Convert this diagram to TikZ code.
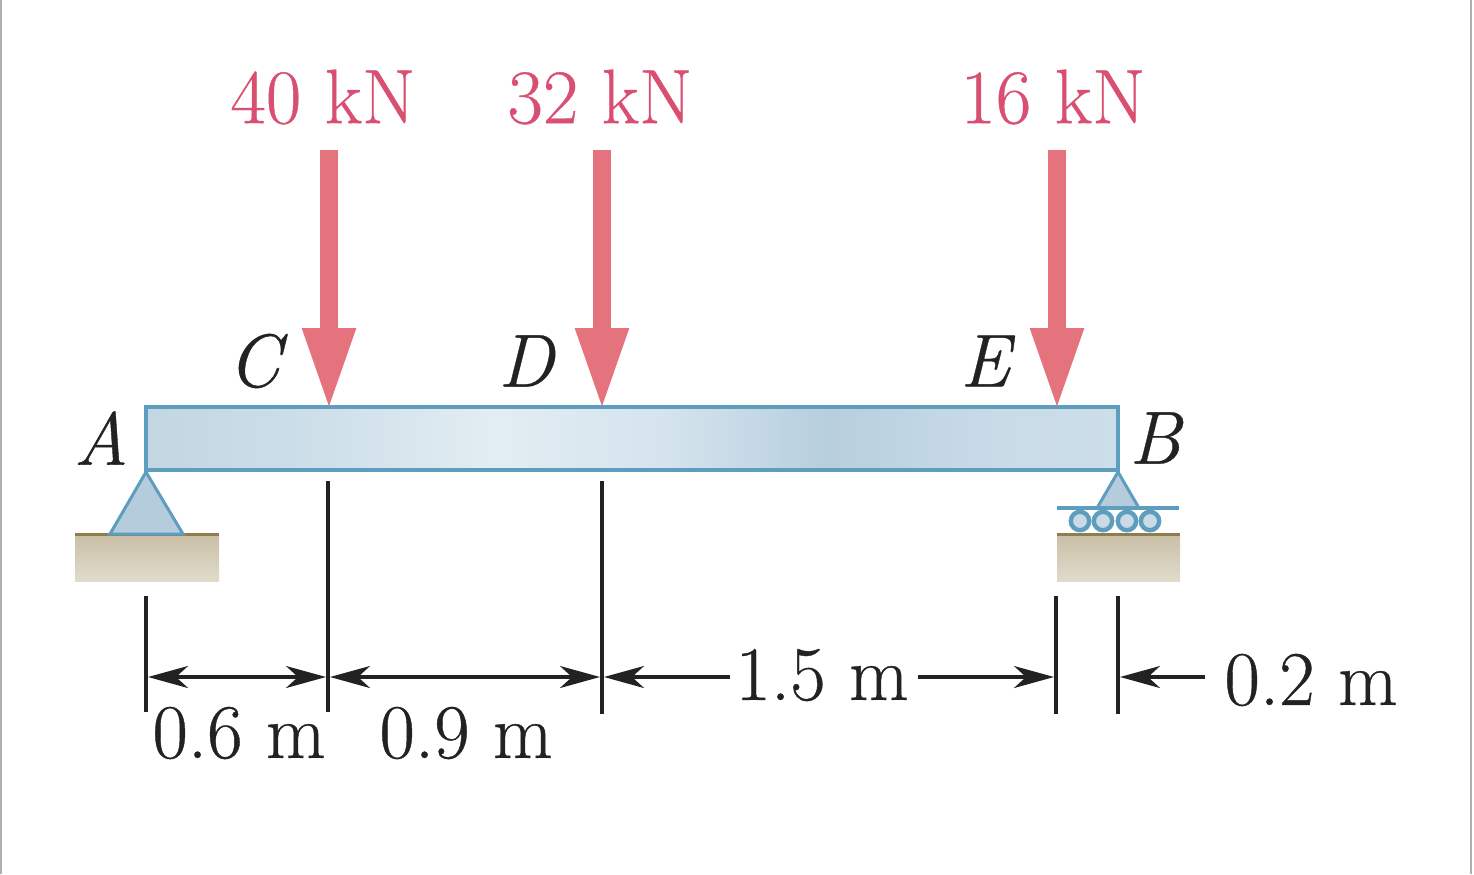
\documentclass[tikz,border=0pt]{standalone}
\usepackage{xcolor}
\usepackage{fontspec}
\setmainfont{Latin Modern Roman}[UprightFeatures={FakeBold=0.5},ItalicFeatures={FakeBold=0.5}]
\usetikzlibrary{arrows.meta}
\definecolor{beamline}{HTML}{5F9DBE}
\definecolor{loadfill}{HTML}{E5737D}
\definecolor{loadtext}{HTML}{D94F72}
\definecolor{groundline}{HTML}{8F7D4E}
\definecolor{dimline}{HTML}{222222}
\definecolor{groundtop}{HTML}{C9BFA6}
\definecolor{groundbottom}{HTML}{E1DBCD}
\definecolor{supportfill}{HTML}{B4CCDC}
\definecolor{framegray}{HTML}{B0B0B0}
\pgfdeclarehorizontalshading{beamshade}{100bp}{
  rgb(0bp)=(.76,.84,.89); rgb(25bp)=(.76,.84,.89); rgb(33bp)=(.80,.87,.91);
  rgb(43bp)=(.89,.93,.95); rgb(52bp)=(.83,.89,.93); rgb(60bp)=(.72,.81,.87);
  rgb(69bp)=(.79,.86,.91); rgb(75bp)=(.80,.87,.91); rgb(100bp)=(.80,.87,.91)}
\tikzset{
  labeltext/.style={font=\fontsize{38.6}{44}\selectfont, text=dimline, inner sep=0pt},
  pointtext/.style={font=\fontsize{37.5}{44}\selectfont\itshape, text=dimline, inner sep=0pt},
  loadlabel/.style={font=\fontsize{38.6}{44}\selectfont, text=loadtext, inner sep=0pt},
  loadarrow/.style={draw=loadfill, line width=9pt, shorten >=-2pt, -{Triangle[length=41.5pt,width=24.3pt]}},
  dimarrow/.style={draw=dimline, line width=1.6pt, {Stealth[length=20pt,width=11pt,inset=6pt]}-{Stealth[length=20pt,width=11pt,inset=6pt]}},
  oneside/.style={draw=dimline, line width=1.6pt, -{Stealth[length=20pt,width=11pt,inset=6pt]}},
  extline/.style={draw=dimline, line width=1.6pt},
  ground/.style={top color=groundtop, bottom color=groundbottom, draw=none},
  support/.style={draw=beamline, line width=1.5pt, fill=supportfill},
}
\begin{document}
\begin{tikzpicture}[x=0.5pt, y=-0.5pt]
\useasboundingbox (0, 0) rectangle (1474, 874);
\draw[framegray, line width=1pt] (1, 0) -- (1, 874);
\draw[framegray, line width=1pt] (1471, 0) -- (1471, 874);

% ground blocks
\fill[ground] (75, 534) rectangle (219, 581);
\fill[ground] (1057, 534) rectangle (1180, 581);
\draw[groundline, line width=1.5pt] (75, 534) -- (219, 534);
\draw[groundline, line width=1.5pt] (1057, 534) -- (1180, 534);

% supports
\draw[support] (146, 472) -- (110, 534) -- (183, 534) -- cycle;
\draw[support] (1118, 472) -- (1097, 508) -- (1139, 508) -- cycle;
\draw[beamline, line width=2pt] (1057, 508) -- (1179, 508);
\foreach \xr in {1080, 1103, 1127, 1150}
  \draw[draw=beamline, line width=2.2pt, fill=supportfill!70] (\xr, 521) circle (4.6pt);

% beam
\node (beam) [draw=beamline, line width=1.6pt, shading=beamshade, shading angle=0, minimum width=486pt, minimum height=31.5pt, inner sep=0pt, outer sep=0pt, anchor=north west] at (146, 407) {};

\coordinate (C) at (329, 407);
\coordinate (D) at (602, 407);
\coordinate (E) at (1057, 407);
\coordinate (fC) at (329, 150);
\coordinate (fD) at (602, 150);
\coordinate (fE) at (1057, 150);

% loads
\draw[loadarrow] (fC) -- (C);
\draw[loadarrow] (fD) -- (D);
\draw[loadarrow] (fE) -- (E);
\node (tC) [loadlabel] at (323, 97) {40 kN};
\node (tD) [loadlabel] at (600, 97) {32 kN};
\node (tE) [loadlabel] at (1053, 97) {16 kN};

% point labels
\node (lA) [pointtext] at (101, 438) {A};
\node (lB) [pointtext] at (1155, 438) {B};
\node (lC) [pointtext] at (254, 361) {C};
\node (lD) [pointtext] at (526, 361) {D};
\node (lE) [pointtext] at (985, 361) {E};

% extension lines
\coordinate (a1) at (146, 596);
\coordinate (a2) at (146, 712);
\coordinate (c1) at (328, 481);
\coordinate (c2) at (328, 712);
\coordinate (d1) at (602, 481);
\coordinate (d2) at (602, 714);
\coordinate (e1) at (1056, 596);
\coordinate (e2) at (1056, 714);
\coordinate (b1) at (1118, 596);
\coordinate (b2) at (1118, 714);
\draw[extline] (a1) -- (a2);
\draw[extline] (c1) -- (c2);
\draw[extline] (d1) -- (d2);
\draw[extline] (e1) -- (e2);
\draw[extline] (b1) -- (b2);

% dimensions
\coordinate (ma) at (148, 677);
\coordinate (mc) at (326, 677);
\coordinate (mc2) at (330, 677);
\coordinate (md) at (600, 677);
\coordinate (md2) at (604, 677);
\coordinate (me) at (1054, 677);
\coordinate (mb) at (1120, 677);
\coordinate (s1) at (730, 677);
\coordinate (s2) at (918, 677);
\coordinate (s3) at (1205, 677);
\draw[dimarrow] (ma) -- (mc);
\draw[dimarrow] (mc2) -- (md);
\draw[oneside] (s1) -- (md2);
\draw[oneside] (s2) -- (me);
\draw[oneside] (s3) -- (mb);
\node (t15) [labeltext] at (822, 675) {1.5 m};
\node (t06) [labeltext] at (239, 733) {0.6 m};
\node (t09) [labeltext] at (466, 733) {0.9 m};
\node (t02) [labeltext] at (1311, 680) {0.2 m};
\end{tikzpicture}
\end{document}
